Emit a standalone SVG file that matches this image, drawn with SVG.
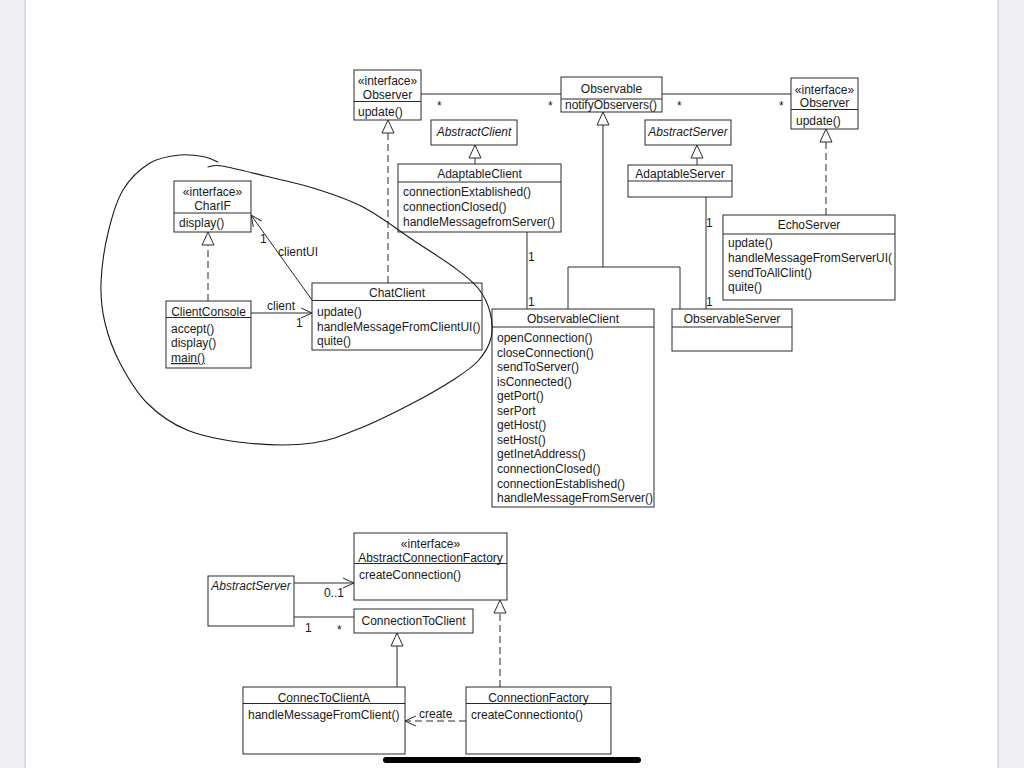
<svg xmlns="http://www.w3.org/2000/svg" width="1024" height="768" viewBox="0 0 1024 768">
<style>
text{font-family:"Liberation Sans",Arial,sans-serif;font-size:12px;fill:#1a1a1a}
.c{text-anchor:middle}
.i{font-style:italic}
.box{fill:#fff;stroke:#2a2a2a;stroke-width:1}
.div{stroke:#2a2a2a;stroke-width:1}
.ln{fill:none;stroke:#2a2a2a;stroke-width:1}
.dash{stroke-dasharray:7,4}
.hand{fill:none;stroke:#1a1a1a;stroke-width:1.1;stroke-linecap:round}
</style>
<defs>
<marker id="tri" viewBox="-1 -1 15 14" refX="13" refY="6" markerWidth="15" markerHeight="14" markerUnits="userSpaceOnUse" orient="auto">
<path d="M0,0 L13,6 L0,12 Z" fill="#fff" stroke="#2a2a2a" stroke-width="1" stroke-dasharray="none"/>
</marker>
<marker id="open" viewBox="-1 -1 13 12" refX="11" refY="5" markerWidth="13" markerHeight="12" markerUnits="userSpaceOnUse" orient="auto">
<path d="M0,0 L11,5 L0,10" fill="none" stroke="#2a2a2a" stroke-width="1" stroke-dasharray="none"/>
</marker>
</defs>
<rect x="0" y="0" width="1024" height="768" fill="#fff"/>
<rect x="0" y="0" width="25" height="768" fill="#eeeef3"/>
<rect x="24" y="0" width="2" height="768" fill="#dcdce2"/>
<rect x="998" y="0" width="26" height="768" fill="#eeeef3"/>
<rect x="997" y="0" width="2" height="768" fill="#dcdce2"/>

<g id="connectors">
<!-- Observer - Observable - Observer associations -->
<line class="ln" x1="421" y1="94" x2="561" y2="94"/>
<line class="ln" x1="662" y1="94" x2="791" y2="94"/>
<text x="437" y="110">*</text>
<text x="548" y="110">*</text>
<text x="677" y="110">*</text>
<text x="779" y="110">*</text>
<!-- generalizations -->
<line class="ln" x1="475" y1="164" x2="475" y2="145" marker-end="url(#tri)"/>
<line class="ln" x1="697" y1="165" x2="697" y2="145" marker-end="url(#tri)"/>
<!-- Observable hierarchy -->
<polyline class="ln" points="568,309 568,267 680,267 680,309"/>
<line class="ln" x1="603" y1="267" x2="603" y2="112" marker-end="url(#tri)"/>
<!-- realization EchoServer -> Observer -->
<line class="ln dash" x1="826" y1="215" x2="826" y2="129" marker-end="url(#tri)"/>
<!-- realization ChatClient -> Observer -->
<line class="ln dash" x1="388" y1="283" x2="388" y2="120" marker-end="url(#tri)"/>
<!-- AdaptableClient - ObservableClient -->
<line class="ln" x1="527" y1="232" x2="527" y2="309"/>
<text x="528" y="261">1</text>
<text x="528" y="306">1</text>
<!-- AdaptableServer - ObservableServer -->
<line class="ln" x1="706" y1="197" x2="706" y2="309"/>
<text x="706" y="227">1</text>
<text x="706" y="306">1</text>
<!-- ClientConsole realizes CharIF -->
<line class="ln dash" x1="208" y1="301" x2="208" y2="232" marker-end="url(#tri)"/>
<!-- ClientConsole -> ChatClient -->
<line class="ln" x1="251" y1="313" x2="312" y2="313" marker-end="url(#open)"/>
<text x="267" y="310">client</text>
<text x="296" y="327">1</text>
<!-- ChatClient -> CharIF -->
<line class="ln" x1="312" y1="300" x2="251" y2="215" marker-end="url(#open)"/>
<text x="260" y="243">1</text>
<text x="278" y="256">clientUI</text>
<!-- bottom -->
<line class="ln" x1="294" y1="583" x2="354" y2="583" marker-end="url(#open)"/>
<text x="324" y="597">0..1</text>
<line class="ln" x1="294" y1="617" x2="354" y2="617"/>
<text x="305" y="632">1</text>
<text x="337" y="634">*</text>
<line class="ln" x1="397" y1="687" x2="397" y2="633" marker-end="url(#tri)"/>
<line class="ln dash" x1="500" y1="687" x2="500" y2="600" marker-end="url(#tri)"/>
<line class="ln dash" x1="466" y1="721" x2="405" y2="721" marker-end="url(#open)"/>
<text x="419" y="718">create</text>
</g>

<g id="Observer1">
<rect class="box" x="354" y="70" width="67" height="50"/>
<line class="div" x1="354" y1="101.5" x2="421" y2="101.5"/>
<text class="c" x="387.5" y="85">«interface»</text>
<text class="c" x="387.5" y="98.5">Observer</text>
<text x="358" y="116">update()</text>
</g>

<g id="Observable">
<rect class="box" x="561" y="77" width="101" height="35"/>
<line class="div" x1="561" y1="99" x2="662" y2="99"/>
<text class="c" x="611.5" y="93">Observable</text>
<text x="565" y="108.5">notifyObservers()</text>
</g>

<g id="Observer2">
<rect class="box" x="791" y="78" width="67" height="51"/>
<line class="div" x1="791" y1="109.5" x2="858" y2="109.5"/>
<text class="c" x="824.5" y="93.5">«interface»</text>
<text class="c" x="824.5" y="107">Observer</text>
<text x="796" y="124.5">update()</text>
</g>

<g id="AbstractClient">
<rect class="box" x="431" y="120" width="86" height="25"/>
<text class="c i" x="474" y="136">AbstractClient</text>
</g>

<g id="AdaptableClient">
<rect class="box" x="398" y="164" width="163" height="68"/>
<line class="div" x1="398" y1="182" x2="561" y2="182"/>
<text class="c" x="479.5" y="178">AdaptableClient</text>
<text x="403" y="196">connectionExtablished()</text>
<text x="403" y="211">connectionClosed()</text>
<text x="403" y="226">handleMessagefromServer()</text>
</g>

<g id="AbstractServer">
<rect class="box" x="645" y="120" width="86" height="25"/>
<text class="c i" x="688" y="136">AbstractServer</text>
</g>

<g id="AdaptableServer">
<rect class="box" x="628" y="165" width="104" height="32"/>
<line class="div" x1="628" y1="181" x2="732" y2="181"/>
<text class="c" x="680" y="178">AdaptableServer</text>
</g>

<g id="EchoServer">
<rect class="box" x="723" y="215" width="172" height="85"/>
<line class="div" x1="723" y1="234" x2="895" y2="234"/>
<text class="c" x="809" y="229">EchoServer</text>
<text x="728" y="247">update()</text>
<text x="728" y="262">handleMessageFromServerUI(</text>
<text x="728" y="277">sendToAllClint()</text>
<text x="728" y="291">quite()</text>
</g>

<g id="ObservableClient">
<rect class="box" x="492" y="309" width="162" height="198"/>
<line class="div" x1="492" y1="327" x2="654" y2="327"/>
<text class="c" x="573" y="323">ObservableClient</text>
<text x="497" y="342">openConnection()</text>
<text x="497" y="356.5">closeConnection()</text>
<text x="497" y="371.1">sendToServer()</text>
<text x="497" y="385.6">isConnected()</text>
<text x="497" y="400.2">getPort()</text>
<text x="497" y="414.7">serPort</text>
<text x="497" y="429.3">getHost()</text>
<text x="497" y="443.8">setHost()</text>
<text x="497" y="458.4">getInetAddress()</text>
<text x="497" y="472.9">connectionClosed()</text>
<text x="497" y="487.5">connectionEstablished()</text>
<text x="497" y="502">handleMessageFromServer()</text>
</g>

<g id="ObservableServer">
<rect class="box" x="672" y="309" width="120" height="42"/>
<line class="div" x1="672" y1="327" x2="792" y2="327"/>
<text class="c" x="732" y="323">ObservableServer</text>
</g>

<g id="CharIF">
<rect class="box" x="174" y="181" width="77" height="51"/>
<line class="div" x1="174" y1="213" x2="251" y2="213"/>
<text class="c" x="212.5" y="196">«interface»</text>
<text class="c" x="212.5" y="210">CharIF</text>
<text x="179" y="227">display()</text>
</g>

<g id="ClientConsole">
<rect class="box" x="166" y="301" width="85" height="67"/>
<line class="div" x1="166" y1="317.5" x2="251" y2="317.5"/>
<text class="c" x="208.5" y="315.5">ClientConsole</text>
<text x="171" y="333">accept()</text>
<text x="171" y="347">display()</text>
<text x="171" y="362" text-decoration="underline">main()</text>
</g>

<g id="ChatClient">
<rect class="box" x="312" y="283" width="170" height="67"/>
<line class="div" x1="312" y1="300.5" x2="482" y2="300.5"/>
<text class="c" x="397" y="297">ChatClient</text>
<text x="317" y="316">update()</text>
<text x="317" y="331">handleMessageFromClientUI()</text>
<text x="317" y="345">quite()</text>
</g>

<g id="AbstractConnectionFactory">
<rect class="box" x="354" y="533" width="153" height="67"/>
<line class="div" x1="354" y1="563.5" x2="507" y2="563.5"/>
<text class="c" x="430.5" y="548">«interface»</text>
<text class="c" x="430.5" y="562">AbstractConnectionFactory</text>
<text x="359" y="579">createConnection()</text>
</g>

<g id="AbstractServer2">
<rect class="box" x="208" y="576" width="86" height="50"/>
<text class="c i" x="251" y="590">AbstractServer</text>
</g>

<g id="ConnectionToClient">
<rect class="box" x="354" y="609" width="119" height="24"/>
<text class="c" x="413.5" y="625">ConnectionToClient</text>
</g>

<g id="ConnecToClientA">
<rect class="box" x="243" y="687" width="162" height="67"/>
<line class="div" x1="243" y1="703.5" x2="405" y2="703.5"/>
<text class="c" x="324" y="702">ConnecToClientA</text>
<text x="248" y="719">handleMessageFromClient()</text>
</g>

<g id="ConnectionFactory">
<rect class="box" x="466" y="687" width="145" height="67"/>
<line class="div" x1="466" y1="703.5" x2="611" y2="703.5"/>
<text class="c" x="538.5" y="702">ConnectionFactory</text>
<text x="471" y="719">createConnectionto()</text>
</g>

<path class="hand" d="M208,167 C210.3,166.8 212.5,164.5 222,166 C231.5,167.5 249.8,172.3 265,176 C280.2,179.7 296.7,182.8 313,188 C329.3,193.2 346.3,198.3 363,207 C379.7,215.7 397.7,229.8 413,240 C428.3,250.2 444.2,260 455,268 C465.8,276 472.2,280.7 478,288 C483.8,295.3 487.8,303.7 490,312 C492.2,320.3 493,329.8 491,338 C489,346.2 484.3,354 478,361 C471.7,368 463.8,373 453,380 C442.2,387 428,395.2 413,403 C398,410.8 379.7,420.3 363,427 C346.3,433.7 332.3,440.3 313,443 C293.7,445.7 268,445.2 247,443 C226,440.8 203.7,436.7 187,430 C170.3,423.3 158.2,414.2 147,403 C135.8,391.8 127,376.3 120,363 C113,349.7 108.2,336.3 105,323 C101.8,309.7 100.5,298 101,283 C101.5,268 104.3,248.5 108,233 C111.7,217.5 116,201.7 123,190 C130,178.3 140.5,168.8 150,163 C159.5,157.2 170.8,156 180,155 C189.2,154 198.7,155.8 205,157 C211.3,158.2 215.8,161.2 218,162"/>

<rect x="383" y="757" width="258" height="6" rx="3" fill="#000"/>
</svg>
